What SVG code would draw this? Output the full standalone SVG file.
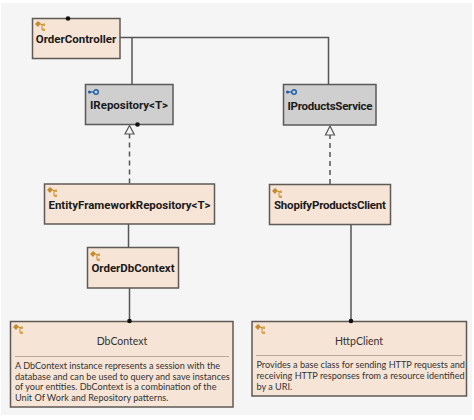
<svg xmlns="http://www.w3.org/2000/svg" width="474" height="420" viewBox="0 0 474 420">
<style>
.cls{fill:#f6e4d6;stroke:#5f5a56;stroke-width:1.5}
.ifc{fill:#cfcfcf;stroke:#5a5a5a;stroke-width:1.5}
.t{font-family:Roboto,"Noto Sans",sans-serif;fill:#1a1a1a}
.b{font-size:11.5px;font-weight:700;text-anchor:middle}
.h{font-family:Lato,Roboto,sans-serif;font-size:10.5px;text-anchor:middle;fill:#333}
.d{font-family:Lato,Roboto,sans-serif;font-size:9.1px;fill:#333}
.sep{stroke:#b9a89b;stroke-width:1}
.ln{fill:none;stroke:#555;stroke-width:1.5}
.dash{fill:none;stroke:#555;stroke-width:1.5;stroke-dasharray:5 4}
.dot{fill:#111}
.tri{fill:#f5f5f5;stroke:#555;stroke-width:1.2}
</style>
<defs>
<g id="ci">
<path d="M0 3L3 0L6 2.500L3 6Z" fill="#c68a2e"/>
<path d="M5.500 3.500H9M7 3.500V9H9" fill="none" stroke="#c68a2e" stroke-width="1"/>
<rect x="7.500" y="2.500" width="2.500" height="2.500" fill="#d9a24a"/>
<rect x="7.500" y="7.500" width="2.500" height="2.500" fill="#d9a24a"/>
</g>
<g id="ii">
<circle cx="1.500" cy="3" r="1.500" fill="#1c5fa8"/>
<path d="M2 3H6" stroke="#1c5fa8" stroke-width="1.200"/>
<circle cx="8" cy="3" r="2.300" fill="none" stroke="#1c5fa8" stroke-width="1.400"/>
</g>
</defs>
<rect width="474" height="420" fill="#fff"/>
<rect x="1" y="3" width="471" height="412" fill="#f5f5f5"/>
<g id="connectors">
<path class="ln" d="M120 37.500H328.500V84.500"/>
<path class="ln" d="M132 37.500V84"/>
<path class="dash" d="M129.500 183.500V134"/>
<path class="tri" d="M129.500 125.500L134 134H125Z"/>
<path class="dash" d="M330 184V135"/>
<path class="tri" d="M330 126L334.500 135H325.500Z"/>
<path class="ln" d="M128.500 224V247"/>
<path class="ln" d="M129.500 288V321"/>
<path class="ln" d="M351 224.500V321"/>
</g>
<g id="OrderController">
<rect class="cls" x="32.500" y="18.500" width="87.500" height="40"/>
<use href="#ci" x="35" y="21"/>
<text class="t b" x="76" y="43">OrderController</text>
<circle class="dot" cx="68" cy="18.500" r="2.300"/>
</g>
<g id="IRepository">
<rect class="ifc" x="85.500" y="84.500" width="87.500" height="40"/>
<use href="#ii" x="88" y="89"/>
<text class="t b" x="129" y="109">IRepository&lt;T&gt;</text>
<circle class="dot" cx="137.500" cy="124.500" r="2.300"/>
</g>
<g id="IProductsService">
<rect class="ifc" x="283.500" y="84.500" width="92.500" height="40.500"/>
<use href="#ii" x="286" y="89"/>
<text class="t b" x="330" y="110" textLength="85">IProductsService</text>
</g>
<g id="EntityFrameworkRepository">
<rect class="cls" x="44.500" y="184" width="170" height="40"/>
<use href="#ci" x="47" y="187"/>
<text class="t b" x="129.500" y="209">EntityFrameworkRepository&lt;T&gt;</text>
</g>
<g id="ShopifyProductsClient">
<rect class="cls" x="269.500" y="184.500" width="121" height="40"/>
<use href="#ci" x="272" y="188"/>
<text class="t b" x="330" y="209" textLength="112">ShopifyProductsClient</text>
</g>
<g id="OrderDbContext">
<rect class="cls" x="87.500" y="247.500" width="91" height="40.500"/>
<use href="#ci" x="90" y="251"/>
<text class="t b" x="133" y="272">OrderDbContext</text>
</g>
<g id="DbContext">
<rect class="cls" x="10.500" y="321.500" width="222.500" height="85.500"/>
<use href="#ci" x="13" y="324"/>
<text class="t h" x="122" y="345">DbContext</text>
<path class="sep" d="M15 356.500H229"/>
<text class="t d" x="15" y="369">A DbContext instance represents a session with the</text>
<text class="t d" x="15" y="379.500">database and can be used to query and save instances</text>
<text class="t d" x="15" y="390">of your entities. DbContext is a combination of the</text>
<text class="t d" x="15" y="400.500">Unit Of Work and Repository patterns.</text>
<circle class="dot" cx="129.500" cy="321" r="2.300"/>
</g>
<g id="HttpClient">
<rect class="cls" x="252" y="321.500" width="214.500" height="74.500"/>
<use href="#ci" x="255" y="324"/>
<text class="t h" x="359" y="345">HttpClient</text>
<path class="sep" d="M256 355.500H462"/>
<text class="t d" x="256.500" y="368">Provides a base class for sending HTTP requests and</text>
<text class="t d" x="256.500" y="379">receiving HTTP responses from a resource identified</text>
<text class="t d" x="256.500" y="389.500">by a URI.</text>
<circle class="dot" cx="351" cy="321" r="2.300"/>
</g>
</svg>
